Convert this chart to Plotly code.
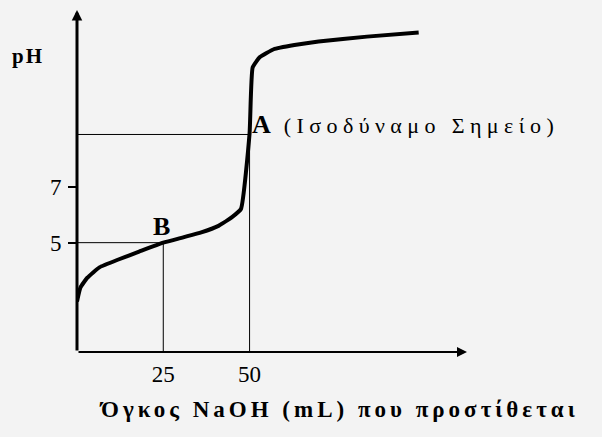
import plotly.graph_objects as go

# titration curve (mL NaOH, pH)
volume = [0, 1, 3, 6.5, 12, 18, 25, 31, 36, 41, 45, 47.5, 50, 50.9, 53, 57, 63, 70, 84, 99]
ph = [2.9, 3.4, 3.75, 4.12, 4.4, 4.68, 5.0, 5.2, 5.37, 5.6, 5.92, 6.2, 8.9, 11.25, 11.62, 11.9, 12.05, 12.18, 12.35, 12.5]

half_point = (25, 5)       # B
equiv_point = (50, 8.86)   # A

x_ticks = [25, 50]
y_ticks = [5, 7]

x_max, y_min, y_max = 113, 1.1, 13.3
font = "Liberation Serif"


def spaced(txt, px):
    return f"<span style='letter-spacing:{px}px'>{txt}</span>"


fig = go.Figure()

# guide lines to the axes
for px, py in (half_point, equiv_point):
    fig.add_trace(go.Scatter(x=[0, px, px], y=[py, py, y_min], mode="lines",
                             line=dict(color="black", width=1), hoverinfo="skip"))

fig.add_trace(go.Scatter(x=volume, y=ph, mode="lines",
                         line=dict(color="black", width=4, shape="spline", smoothing=0.4)))

# axes drawn with arrows
fig.add_annotation(x=0, y=y_max, ax=0, ay=y_min, xref="x", yref="y", axref="x", ayref="y",
                   showarrow=True, arrowhead=2, arrowsize=0.7, arrowwidth=3, arrowcolor="black", text="")
fig.add_annotation(x=x_max, y=y_min, ax=0, ay=y_min, xref="x", yref="y", axref="x", ayref="y",
                   showarrow=True, arrowhead=2, arrowsize=1, arrowwidth=2, arrowcolor="black", text="")

fig.add_annotation(x=equiv_point[0], y=equiv_point[1], xref="x", yref="y", xanchor="left", yanchor="bottom",
                   xshift=0, yshift=-7, showarrow=False,
                   text="<b>A</b>  <span style='font-size:22px;letter-spacing:5.4px'>(Ισοδύναμο Σημείο)</span>",
                   font=dict(family=font, size=26, color="black"))
fig.add_annotation(x=half_point[0], y=half_point[1], xref="x", yref="y", xanchor="center", yanchor="bottom",
                   xshift=-2, yshift=0, showarrow=False, text="<b>B</b>",
                   font=dict(family=font, size=26, color="black"))

fig.add_annotation(x=10, y=56, xref="paper", yref="paper", showarrow=False,
                   text="<b>" + spaced("pH", 2) + "</b>",
                   xanchor="left", yanchor="middle", font=dict(family=font, size=21, color="black"))
fig.add_annotation(x=339, y=409, xref="paper", yref="paper", showarrow=False,
                   text="<b>" + spaced("Όγκος NaOH (mL) που προστίθεται", 4.0) + "</b>",
                   xanchor="center", yanchor="middle", font=dict(family=font, size=23, color="black"))

# put the two free labels in paper fractions (pixels given above)
pw, ph_ = 602 - 77 - 135, 437 - 10 - 85
for ann in fig.layout.annotations[-2:]:
    ann.update(x=(ann.x - 77) / pw, y=(437 - 85 - ann.y) / ph_)

fig.update_layout(
    width=602, height=437,
    margin=dict(l=77, r=135, t=10, b=85),
    paper_bgcolor="#f3f3f3", plot_bgcolor="#f3f3f3",
    showlegend=False,
    font=dict(family=font, size=23, color="black"),
    xaxis=dict(range=[0, x_max], showgrid=False, zeroline=False, showline=False, automargin=False,
               tickvals=x_ticks, ticks="", ticklabelstandoff=6),
    yaxis=dict(range=[y_min, y_max], showgrid=False, zeroline=False, showline=False, automargin=False,
               tickvals=y_ticks, ticks="outside", ticklen=8, tickwidth=2, tickcolor="black",
               ticklabelstandoff=2),
)

# drop the page margin so the figure sits at the window corner
fig.write_html("out.html", config={"displayModeBar": False},
               post_script="document.body.style.margin='0';")
